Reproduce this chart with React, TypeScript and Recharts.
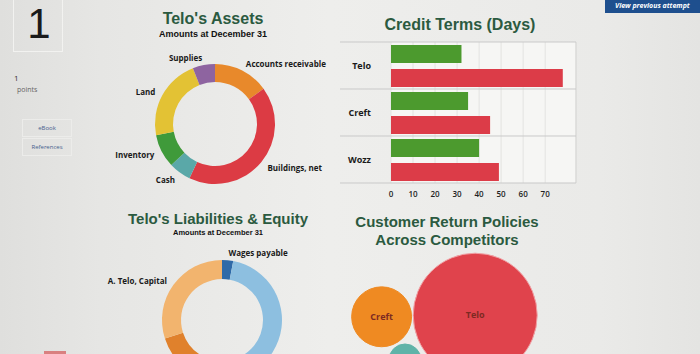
import React from 'react';
import {
  PieChart, Pie, Cell, BarChart, Bar, XAxis, YAxis, CartesianGrid, ReferenceLine,
  ScatterChart, Scatter, ZAxis, LabelList,
} from 'recharts';

// ---- Telo's Assets ----
const assetNames = ['Accounts receivable', 'Buildings, net', 'Cash', 'Inventory', 'Land', 'Supplies'];
const assetValues = [15, 42, 6, 9, 22, 6];
const assetColors = ['#e8892b', '#dc3b44', '#5aa8a8', '#3f9a3a', '#e3c234', '#8e64a0'];

// ---- Telo's Liabilities & Equity ----
const liabNames = ['Wages payable', 'Accounts payable', 'Notes payable', 'A. Telo, Capital'];
const liabLabels = ['Wages payable', '', '', 'A. Telo, Capital'];
const liabValues = [3, 55, 12, 30];
const liabColors = ['#2f6aa8', '#8dbfe0', '#e0812c', '#f2b46e'];

// ---- Credit Terms (Days) ----
const creditCompanies = ['Telo', 'Creft', 'Wozz'];
const creditOffered = [32, 35, 40];
const creditReceived = [78, 45, 49];
const creditTicks = [0, 10, 20, 30, 40, 50, 60, 70];
const creditMax = 84;

// ---- Customer Return Policies ----
const bubbleNames = ['Telo', 'Creft', 'Wozz'];
const bubbleLabels = ['Telo', 'Creft', ''];
const bubbleDays = [60, 14, 4];
const bubbleX = [52, 16, 25];
const bubbleY = [53, 52, 25];
const bubbleColors = ['#e0434c', '#ef8a22', '#5fb3a8'];

const assetData = assetNames.map((name, i) => ({ name, value: assetValues[i] }));
const liabData = liabNames.map((name, i) => ({ name, value: liabValues[i] }));
const creditData = creditCompanies.map((name, i) => ({ name, offered: creditOffered[i], received: creditReceived[i] }));
const bubbleData = bubbleNames.map((name, i) => ({ name, label: bubbleLabels[i], x: bubbleX[i], y: bubbleY[i], z: bubbleDays[i] }));

const RAD = Math.PI / 180;
const labelStyle: React.CSSProperties = { fontFamily: '"Open Sans", sans-serif', fontSize: 8, fontWeight: 700, fill: '#1a1a1a' };

function makeLabel(names: string[]) {
  return (p: any) => {
    const name = names[p.index];
    if (!name) return <g />;
    const r = p.outerRadius + 8;
    const x = p.cx + r * Math.cos(-p.midAngle * RAD);
    const y = p.cy + r * Math.sin(-p.midAngle * RAD);
    return (
      <text x={x} y={y} textAnchor={x > p.cx ? 'start' : 'end'} dominantBaseline="central" style={labelStyle}>
        {name}
      </text>
    );
  };
}

const BAR_H = 175;
const BAR_W = 250;
const BAR_TOP = 12;
const BAR_XAXIS_H = 22;
const BAR_RIGHT = 14;
const BAND = (BAR_H - BAR_TOP - BAR_XAXIS_H) / creditCompanies.length;

const YTick = (p: any) => {
  const top = p.y - BAND / 2;
  const bottom = p.y + BAND / 2;
  const last = p.index === creditCompanies.length - 1;
  return (
    <g>
      <line x1={0} x2={BAR_W - BAR_RIGHT} y1={top} y2={top} stroke="#c9c9c9" strokeWidth={1} />
      {last && <line x1={0} x2={BAR_W - BAR_RIGHT} y1={bottom} y2={bottom} stroke="#c9c9c9" strokeWidth={1} />}
      <text x={p.x - 12} y={p.y} textAnchor="end" dominantBaseline="central"
        style={{ fontFamily: '"Open Sans", sans-serif', fontSize: 9, fontWeight: 700, fill: '#1a1a1a' }}>
        {p.payload.value}
      </text>
    </g>
  );
};

const BubbleShape = (p: any) => {
  const r = p.width ? p.width / 2 : Math.sqrt((p.size || 0) / Math.PI);
  return <circle cx={p.cx} cy={p.cy} r={r} fill={p.fill} stroke={p.stroke} strokeWidth={1} />;
};

const titleStyle: React.CSSProperties = {
  position: 'absolute', textAlign: 'center', fontFamily: '"Liberation Sans", Arial, sans-serif',
  fontWeight: 700, color: '#2b5a40', whiteSpace: 'nowrap', lineHeight: 1,
};
const subStyle: React.CSSProperties = {
  position: 'absolute', textAlign: 'center', fontFamily: '"Liberation Sans", Arial, sans-serif',
  fontWeight: 700, color: '#111', whiteSpace: 'nowrap', lineHeight: 1,
};

export default function App() {
  return (
    <div style={{
      position: 'absolute', left: 0, top: 0, width: 700, height: 354, overflow: 'hidden',
      background: 'linear-gradient(to right, #dfdfdd 0px, #e6e6e4 100px, #eeeeec 330px, #eaeae8 600px, #e4e4e2 700px)',
      fontFamily: '"Open Sans", sans-serif',
    }}>
      {/* left column */}
      <div style={{ position: 'absolute', left: 13, top: -2, width: 50, height: 54, border: '1px solid #f2f2f0', boxSizing: 'border-box' }} />
      <div style={{ position: 'absolute', left: 22, top: 0, width: 34, textAlign: 'center', fontSize: 42, color: '#1a1a1a', fontFamily: '"Liberation Sans", Arial, sans-serif', fontWeight: 400 }}>1</div>
      <div style={{ position: 'absolute', left: 14, top: 72, fontSize: 8, color: '#333' }}>1</div>
      <div style={{ position: 'absolute', left: 17, top: 85, fontSize: 7, color: '#666' }}>points</div>
      <div style={{ position: 'absolute', left: 22, top: 119, width: 50, height: 18, border: '1px solid #ececea', boxSizing: 'border-box', fontSize: 6, color: '#46618e', textAlign: 'center', lineHeight: '16px' }}>eBook</div>
      <div style={{ position: 'absolute', left: 22, top: 138, width: 50, height: 18, border: '1px solid #ececea', boxSizing: 'border-box', fontSize: 6, color: '#46618e', textAlign: 'center', lineHeight: '16px' }}>References</div>
      <div style={{ position: 'absolute', left: 44, top: 351, width: 22, height: 4, background: '#d98080' }} />

      {/* view previous attempt */}
      <div style={{ position: 'absolute', left: 605, top: -2, width: 95, height: 15, background: '#1e4f8e', color: '#fff', fontSize: 7, fontWeight: 700, fontStyle: 'italic', lineHeight: '15px', paddingLeft: 10, boxSizing: 'border-box', whiteSpace: 'nowrap' }}>View previous attempt</div>

      {/* Telo's Assets */}
      <div style={{ ...titleStyle, left: 113, top: 11, width: 200, fontSize: 16 }}>Telo's Assets</div>
      <div style={{ ...subStyle, left: 113, top: 30, width: 200, fontSize: 9 }}>Amounts at December 31</div>
      <div style={{ position: 'absolute', left: 100, top: 44 }}>
        <PieChart width={230} height={160} margin={{ top: 0, right: 0, bottom: 0, left: 0 }}>
          <Pie data={assetData} dataKey="value" nameKey="name" cx={115} cy={80} innerRadius={42} outerRadius={60}
            startAngle={90} endAngle={-270} stroke="none" isAnimationActive={false}
            labelLine={false} label={makeLabel(assetNames)}>
            {assetData.map((d, i) => <Cell key={d.name} fill={assetColors[i]} />)}
          </Pie>
        </PieChart>
      </div>

      {/* Credit Terms */}
      <div style={{ ...titleStyle, left: 360, top: 17, width: 200, fontSize: 16 }}>Credit Terms (Days)</div>
      <div style={{ position: 'absolute', left: 340, top: 30 }}>
        <BarChart width={BAR_W} height={BAR_H} data={creditData} layout="vertical"
          margin={{ top: BAR_TOP, right: BAR_RIGHT, bottom: 0, left: 0 }} barSize={18} barGap={6}>
          <CartesianGrid horizontal={false} vertical stroke="#e3e3e1" fill="#f6f6f4" />
          <XAxis type="number" domain={[0, creditMax]} ticks={creditTicks} height={BAR_XAXIS_H}
            axisLine={false} tickLine={false} interval={0}
            tick={{ fontSize: 8, fill: '#222', fontFamily: '"Open Sans", sans-serif', fontWeight: 600 }} />
          <YAxis type="category" dataKey="name" width={51} axisLine={false} tickLine={false} tick={<YTick />} />
          <ReferenceLine x={creditMax} stroke="#d6d6d4" />
          <Bar dataKey="offered" name="Terms offered" fill="#4c9a2e" isAnimationActive={false} />
          <Bar dataKey="received" name="Terms received" fill="#dc3c48" isAnimationActive={false} />
        </BarChart>
      </div>

      {/* Telo's Liabilities & Equity */}
      <div style={{ ...titleStyle, left: 118, top: 211, width: 200, fontSize: 15 }}>Telo's Liabilities &amp; Equity</div>
      <div style={{ ...subStyle, left: 118, top: 229, width: 200, fontSize: 7.5 }}>Amounts at December 31</div>
      <div style={{ position: 'absolute', left: 100, top: 240 }}>
        <PieChart width={240} height={160} margin={{ top: 0, right: 0, bottom: 0, left: 0 }}>
          <Pie data={liabData} dataKey="value" nameKey="name" cx={122} cy={80} innerRadius={41} outerRadius={60}
            startAngle={90} endAngle={-270} stroke="none" isAnimationActive={false}
            labelLine={false} label={makeLabel(liabLabels)}>
            {liabData.map((d, i) => <Cell key={d.name} fill={liabColors[i]} />)}
          </Pie>
        </PieChart>
      </div>

      {/* Customer Return Policies */}
      <div style={{ ...titleStyle, left: 347, top: 214, width: 200, fontSize: 15 }}>Customer Return Policies</div>
      <div style={{ ...titleStyle, left: 347, top: 232, width: 200, fontSize: 15 }}>Across Competitors</div>
      <div style={{ position: 'absolute', left: 340, top: 240 }}>
        <ScatterChart width={260} height={160} margin={{ top: 0, right: 0, bottom: 0, left: 0 }}>
          <XAxis type="number" dataKey="x" domain={[0, 100]} hide />
          <YAxis type="number" dataKey="y" domain={[0, 100]} hide />
          <ZAxis type="number" dataKey="z" domain={[0, 60]} range={[0, Math.PI * 62 * 62]} />
          <Scatter data={bubbleData} isAnimationActive={false} shape={<BubbleShape />}>
            {bubbleData.map((d, i) => (
              <Cell key={d.name} fill={bubbleColors[i]} stroke={i === 0 ? '#f0a0a4' : bubbleColors[i]} />
            ))}
            <LabelList dataKey="label" position="center"
              style={{ fontSize: 9, fontWeight: 700, fill: '#7d2a22', fontFamily: '"Open Sans", sans-serif' }} />
          </Scatter>
        </ScatterChart>
      </div>
    </div>
  );
}
